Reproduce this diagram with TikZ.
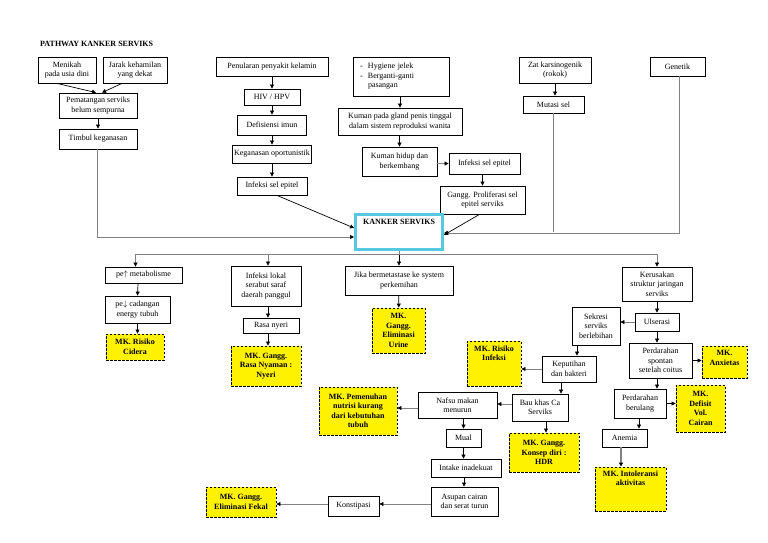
\documentclass[tikz,border=0pt]{standalone}
\usepackage{fontspec}
\setmainfont{Liberation Serif}
\usetikzlibrary{arrows.meta}
\definecolor{biru}{RGB}{88,200,224}

\begin{document}
\begin{tikzpicture}[x=1pt, y=-1pt,
	huruf/.style={font=\fontsize{8}{9.5}\selectfont},
	tebal/.style={font=\fontsize{8}{9.5}\selectfont\bfseries},
	kotak/.style={draw, line width=0.8pt, huruf, align=center, inner sep=1pt},
	mk/.style={draw, fill=yellow, dash pattern=on 2.5pt off 1.5pt, line width=0.9pt, tebal, align=center, inner sep=1pt},
	panah/.style={-{Triangle[length=4pt, width=4pt, color=black]}, line width=0.7pt},
	abu/.style={draw=black!50}]
	\useasboundingbox (0,0) rectangle (768,543);
	\node[tebal, anchor=west, inner sep=0] (judul) at (40,44) {PATHWAY KANKER SERVIKS};

	\node[kotak, minimum width=58, minimum height=26] (menikah) at (67,70) {Menikah\\pada usia dini};
	\node[kotak, minimum width=64, minimum height=26] (jarak) at (135,70) {Jarak kehamilan\\yang dekat};
	\node[kotak, minimum width=78, minimum height=25] (pematangan) at (98,105.5) {Pematangan serviks\\belum sempurna};
	\node[kotak, minimum width=78, minimum height=20] (timbul) at (98,139) {Timbul keganasan};

	\node[kotak, minimum width=112, minimum height=19] (penularan) at (272,66.5) {Penularan penyakit kelamin};
	\node[kotak, minimum width=56, minimum height=16] (hiv) at (272,97) {HIV / HPV};
	\node[kotak, minimum width=69, minimum height=20] (defisiensi) at (272,125) {Defisiensi imun};
	\node[kotak, minimum width=79, minimum height=18] (oportunistik) at (272,154) {Keganasan oportunistik};
	\node[kotak, minimum width=70, minimum height=18] (epitel) at (272,186) {Infeksi sel epitel};

	\node[kotak, align=left, text width=82, inner xsep=7, minimum height=39] (hygiene) at (401,76.5) {\makebox[8pt][l]{-}Hygiene jelek\\\makebox[8pt][l]{-}Berganti-ganti\\\hspace*{8pt}pasangan};
	\node[kotak, minimum width=124, minimum height=27] (gland) at (400,121.5) {Kuman pada gland penis tinggal\\dalam sistem reproduksi wanita};
	\node[kotak, minimum width=75, minimum height=29] (hidup) at (399.5,161.5) {Kuman hidup dan\\berkembang};
	\node[kotak, minimum width=71, minimum height=21] (epitel2) at (484.5,163.5) {Infeksi sel epitel};
	\node[kotak, minimum width=85, minimum height=28] (proliferasi) at (482.5,200) {Gangg. Proliferasi sel\\epitel serviks};

	\node[kotak, minimum width=72, minimum height=26] (zat) at (555,70) {Zat karsinogenik\\(rokok)};
	\node[kotak, minimum width=61, minimum height=17] (mutasi) at (553.5,104.5) {Mutasi sel};
	\node[kotak, minimum width=55, minimum height=19] (genetik) at (677.5,66.5) {Genetik};

	\node[draw=biru, line width=3pt, minimum width=87, minimum height=35, inner sep=0, label={[tebal, anchor=north, inner sep=6pt]north:KANKER SERVIKS}] (kanker) at (399,232) {};
	\coordinate (bagi) at (399,254);

	\node[kotak, minimum width=77, minimum height=16] (metabolisme) at (143.5,275) {pe$\uparrow$ metabolisme};
	\node[kotak, minimum width=65, minimum height=27] (cadangan) at (137.5,309.5) {pe$\downarrow$ cadangan\\energy tubuh};
	\node[mk, minimum width=58, minimum height=26] (cidera) at (135,347) {MK. Risiko\\Cidera};

	\node[kotak, minimum width=70, minimum height=40] (lokal) at (266,286) {Infeksi lokal\\serabut saraf\\daerah panggul};
	\node[kotak, minimum width=56, minimum height=15] (nyeri) at (271,325.5) {Rasa nyeri};
	\node[mk, minimum width=70, minimum height=40] (nyaman) at (266,366) {MK. Gangg.\\Rasa Nyaman :\\Nyeri};

	\node[kotak, minimum width=108, minimum height=29] (metastase) at (399,280.5) {Jika bermetastase ke system\\perkemihan};
	\node[mk, minimum width=53, minimum height=45] (urine) at (398.5,330.5) {MK.\\Gangg.\\Eliminasi\\Urine};

	\node[kotak, minimum width=70, minimum height=34] (kerusakan) at (657,284) {Kerusakan\\struktur jaringan\\serviks};
	\node[kotak, minimum width=44, minimum height=18] (ulserasi) at (657,322) {Ulserasi};
	\node[kotak, minimum width=48, minimum height=38] (sekresi) at (596,326) {Sekresi\\serviks\\berlebihan};
	\node[kotak, minimum width=63, minimum height=35] (spontan) at (660.5,360.5) {Perdarahan\\spontan\\setelah coitus};
	\node[mk, minimum width=45, minimum height=32, label={[tebal, anchor=north, align=center, inner sep=5pt]north:MK.\\Anxietas}] (anxietas) at (724.5,362) {};
	\node[kotak, minimum width=54, minimum height=26] (keputihan) at (569,369) {Keputihan\\dan bakteri};
	\node[mk, minimum width=54, minimum height=45, label={[tebal, anchor=north, align=center, inner sep=5pt]north:MK. Risiko\\Infeksi}] (infeksi) at (494,363.5) {};
	\node[kotak, minimum width=56, minimum height=27] (bau) at (540,407.5) {Bau khas Ca\\Serviks};
	\node[mk, minimum width=70, minimum height=39] (konsep) at (544,452.5) {MK. Gangg.\\Konsep diri :\\HDR};
	\node[kotak, minimum width=79, minimum height=26] (nafsu) at (457.5,405) {Nafsu makan\\menurun};
	\node[mk, minimum width=78, minimum height=48] (nutrisi) at (358,411) {MK. Pemenuhan\\nutrisi kurang\\dari kebutuhan\\tubuh};
	\node[kotak, minimum width=35, minimum height=18] (mual) at (463.5,438) {Mual};
	\node[kotak, minimum width=70, minimum height=18] (intake) at (466,468) {Intake inadekuat};
	\node[kotak, minimum width=67, minimum height=29] (asupan) at (464.5,501.5) {Asupan cairan\\dan serat turun};
	\node[kotak, minimum width=51, minimum height=20] (konstipasi) at (353.5,506) {Konstipasi};
	\node[mk, minimum width=70, minimum height=30] (fekal) at (241,502) {MK. Gangg.\\Eliminasi Fekal};
	\node[kotak, minimum width=52, minimum height=29] (berulang) at (640,403.5) {Perdarahan\\berulang};
	\node[mk, minimum width=49, minimum height=47] (defisit) at (700.5,408.5) {MK.\\Defisit\\Vol.\\Cairan};
	\node[kotak, minimum width=45, minimum height=18] (anemia) at (624.5,438) {Anemia};
	\node[mk, minimum width=71, minimum height=44, label={[tebal, anchor=north, align=center, inner sep=4pt]north:MK. Intoleransi\\aktivitas}] (intoleransi) at (630.5,489) {};

	\draw[panah] ([xshift=-10]menikah.south) -- ([xshift=-2]pematangan.north);
	\draw[panah] ([xshift=-13]jarak.south) -- ([xshift=4]pematangan.north);
	\draw[panah] (pematangan) -- (timbul);
	\draw[panah, abu] ([xshift=-1]timbul.south) |- ([yshift=-5]kanker.west);
	\draw[panah] (penularan) -- (hiv);
	\draw[panah] (hiv) -- (defisiensi);
	\draw[panah] (defisiensi) -- (oportunistik);
	\draw[panah] (oportunistik) -- (epitel);
	\draw[panah] ([xshift=5]epitel.south) -- ([yshift=4]kanker.west);
	\draw[panah] (hygiene.south -| gland) -- (gland);
	\draw[panah] (gland.south -| hidup) -- (hidup);
	\draw[panah, abu] (hidup.east |- epitel2) -- (epitel2);
	\draw[panah] ([xshift=-2]epitel2.south) -- ([xshift=-2]epitel2.south |- proliferasi.north);
	\draw[panah] ([xshift=-3]proliferasi.south) -- ([yshift=-3]kanker.east);
	\draw[panah] (zat) -- (zat |- mutasi.north);
	\draw[abu, line width=0.7pt] (mutasi.south) -- (mutasi.south |- kanker.east);
	\draw[panah, abu] ([xshift=1.5]genetik.south) |- ([yshift=-1]kanker.east);

	\draw[abu, line width=0.7pt] (kanker.south) -- (bagi);
	\draw[panah, abu] (bagi) -| ([xshift=-8]metabolisme.north);
	\draw[panah, abu] (bagi) -| ([xshift=2]lokal.north);
	\draw[panah] (bagi) -- (metastase.north);
	\draw[panah, abu] (bagi) -| (kerusakan.north);

	\draw[panah] ([xshift=-5.5]metabolisme.south) -- (cadangan.north);
	\draw[panah] (cadangan.south) -- ([xshift=2.5]cidera.north);
	\draw[panah] ([xshift=2]lokal.south) -- ([xshift=-3]nyeri.north);
	\draw[panah] ([xshift=-3]nyeri.south) -- ([xshift=2]nyaman.north);
	\draw[panah] (metastase) -- (urine);

	\draw[panah] (kerusakan) -- (ulserasi);
	\draw[panah, abu] (ulserasi.west) -- (ulserasi.west -| sekresi.east);
	\draw[panah] (ulserasi.south) -- (ulserasi.south |- spontan.north);
	\draw[panah] (spontan.east) -- (spontan.east -| anxietas.west);
	\draw[panah] ([xshift=-19]sekresi.south) -- ([xshift=-19]sekresi.south |- keputihan.north);
	\draw[panah, abu] (keputihan.west) -- (keputihan.west -| infeksi.east);
	\draw[panah] ([xshift=-8]keputihan.south) -- ([xshift=-8]keputihan.south |- bau.north);
	\draw[panah] ([xshift=6]bau.south) -- ([xshift=6]bau.south |- konsep.north);
	\draw[panah, abu] ([yshift=3.5]bau.west) -- ([yshift=3.5]bau.west -| nafsu.east);
	\draw[panah, abu] ([yshift=-3]nafsu.west) -- ([yshift=-3]nafsu.west -| nutrisi.east);
	\draw[panah] ([xshift=6]nafsu.south) -- (mual.north);
	\draw[panah] (mual.south) -- (mual.south |- intake.north);
	\draw[panah] ([xshift=-2]intake.south) -- ([xshift=-2]intake.south |- asupan.north);
	\draw[panah, abu] ([yshift=-2.5]asupan.west) -- ([yshift=-2.5]asupan.west -| konstipasi.east);
	\draw[panah, abu] ([yshift=2]konstipasi.west) -- ([yshift=2]konstipasi.west -| fekal.east);
	\draw[panah] ([xshift=-3.5]spontan.south) -- ([xshift=-3.5]spontan.south |- berulang.north);
	\draw[panah] (berulang.east) -- (berulang.east -| defisit.west);
	\draw[panah] ([xshift=-1]berulang.south) -- ([xshift=-1]berulang.south |- anemia.north);
	\draw[panah, abu, line width=1.2pt] ([xshift=-3.5]anemia.south) -- ([xshift=-3.5]anemia.south |- intoleransi.north);
\end{tikzpicture}
\end{document}
